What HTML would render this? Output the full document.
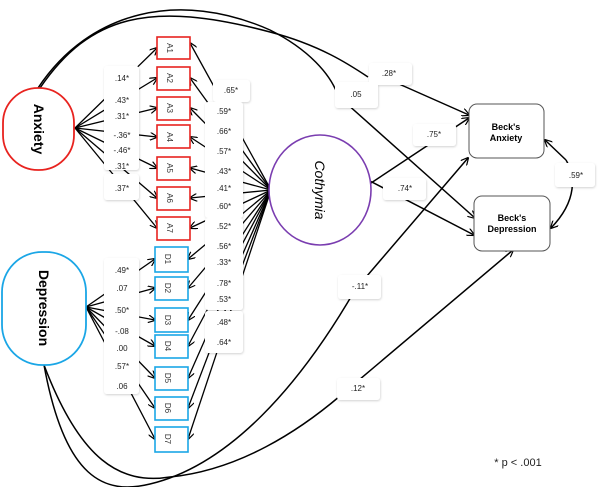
<!DOCTYPE html>
<html><head><meta charset="utf-8"><style>
html,body{margin:0;padding:0;background:#fff;}
svg{display:block;font-family:"Liberation Sans",Arial,sans-serif;}
</style></head><body>
<svg width="600" height="487" viewBox="0 0 600 487" xmlns="http://www.w3.org/2000/svg">
<defs>
<marker id="ar" markerWidth="8" markerHeight="8" refX="7" refY="4" orient="auto" markerUnits="userSpaceOnUse">
<path d="M0,0 L8,4 L0,8" fill="none" stroke="#000" stroke-width="1.2"/>
</marker>
<filter id="sh" x="-20%" y="-20%" width="140%" height="140%"><feDropShadow dx="0.5" dy="1" stdDeviation="1" flood-color="#000" flood-opacity="0.18"/></filter>
</defs>
<g stroke="#000" stroke-width="1.5" fill="none">
<path d="M38,88 C90,10 180,-10 270,30 C310,50 330,75 337,93"/>
<path d="M40,88 C90,15 150,0 270,32 C320,45 350,65 368,77"/>
<path d="M337,95 L475,218" marker-end="url(#ar)"/>
<path d="M390,80 L469,115" marker-end="url(#ar)"/>
<path d="M44,365 C65,480 105,495 150,484 C230,465 300,385 355,290 L468,158" marker-end="url(#ar)"/>
<path d="M44,365 C80,460 120,485 170,477 C240,470 300,430 340,396 L513,250" marker-end="url(#ar)"/>
<path d="M368,185 L469,118" marker-end="url(#ar)"/>
<path d="M368,180 L474,235" marker-end="url(#ar)"/>
<path d="M566,160 C575,175 578,200 551,228" marker-end="url(#ar)"/>
<path d="M566,160 L545,140" marker-end="url(#ar)"/>
</g>
<g stroke="#000" stroke-width="1.3" fill="none" marker-end="url(#ar)">
<path d="M75,128 L157,48"/><path d="M75,128 L157,78"/><path d="M75,128 L157,108"/>
<path d="M75,128 L157,137"/><path d="M75,128 L157,168"/><path d="M75,128 L157,198"/><path d="M75,128 L157,228"/>
<path d="M86,307 L155,259"/><path d="M86,307 L155,288"/><path d="M86,307 L155,320"/>
<path d="M86,307 L155,346"/><path d="M86,307 L155,378"/><path d="M86,307 L155,408"/><path d="M86,307 L155,439"/>
<path d="M271,190 L190,43"/><path d="M271,190 L190,78"/><path d="M271,190 L190,108"/>
<path d="M271,190 L190,137"/><path d="M271,190 L190,168"/><path d="M271,190 L190,198"/><path d="M271,190 L190,228"/>
<path d="M271,190 L188,259"/><path d="M271,190 L188,288"/><path d="M271,190 L188,320"/>
<path d="M271,190 L188,346"/><path d="M271,190 L188,378"/><path d="M271,190 L188,408"/><path d="M271,190 L188,439"/>
</g>
<g fill="#fff" filter="url(#sh)">
<rect x="104" y="66" width="35" height="104" rx="3"/>
<rect x="104" y="174" width="35" height="26" rx="3"/>
<rect x="104" y="258" width="35" height="136" rx="3"/>
<rect x="213" y="80" width="37" height="22" rx="3"/>
<rect x="205" y="102" width="38" height="116" rx="3"/>
<rect x="205" y="218" width="38" height="92" rx="3"/>
<rect x="205" y="311" width="38" height="42" rx="3"/>
<rect x="369" y="63" width="43" height="22" rx="3"/>
<rect x="335" y="82" width="43" height="26" rx="3"/>
<rect x="413" y="124" width="43" height="22" rx="3"/>
<rect x="383" y="178" width="43" height="22" rx="3"/>
<rect x="555" y="163" width="40" height="24" rx="3"/>
<rect x="338" y="275" width="43" height="24" rx="3"/>
<rect x="337" y="378" width="43" height="22" rx="3"/>
</g>
<g font-size="8" fill="#222" text-anchor="middle">
<text x="122" y="81">.14*</text><text x="122" y="103">.43*</text><text x="122" y="119">.31*</text>
<text x="122" y="138">-.36*</text><text x="122" y="153">-.46*</text><text x="122" y="169">.31*</text>
<text x="122" y="191">.37*</text>
<text x="122" y="273">.49*</text><text x="122" y="291">.07</text><text x="122" y="313">.50*</text>
<text x="122" y="334">-.08</text><text x="122" y="351">.00</text><text x="122" y="369">.57*</text>
<text x="122" y="389">.06</text>
<text x="231" y="93">.65*</text><text x="224" y="114">.59*</text><text x="224" y="134">.66*</text>
<text x="224" y="154">.57*</text><text x="224" y="174">.43*</text><text x="224" y="191">.41*</text>
<text x="224" y="209">.60*</text><text x="224" y="229">.52*</text><text x="224" y="249">.56*</text>
<text x="224" y="265">.33*</text><text x="224" y="286">.78*</text><text x="224" y="302">.53*</text>
<text x="224" y="325">.48*</text><text x="224" y="345">.64*</text>
<text x="389" y="76">.28*</text><text x="356" y="97">.05</text><text x="434" y="137">.75*</text>
<text x="405" y="191">.74*</text><text x="576" y="178">.59*</text><text x="360" y="289">-.11*</text>
<text x="358" y="391">.12*</text>
</g>
<g fill="#fff" stroke="#e8231f" stroke-width="1.6">
<rect x="157" y="37" width="33" height="22"/><rect x="157" y="67" width="33" height="23"/>
<rect x="157" y="97" width="33" height="23"/><rect x="157" y="125" width="33" height="23"/>
<rect x="157" y="157" width="33" height="23"/><rect x="157" y="187" width="33" height="23"/>
<rect x="157" y="217" width="33" height="23"/>
</g>
<g fill="#fff" stroke="#1aa6e6" stroke-width="1.6">
<rect x="155" y="247" width="33" height="25"/><rect x="155" y="277" width="33" height="23"/>
<rect x="155" y="308" width="33" height="24"/><rect x="155" y="335" width="33" height="23"/>
<rect x="155" y="367" width="33" height="23"/><rect x="155" y="397" width="33" height="23"/>
<rect x="155" y="427" width="33" height="25"/>
</g>
<g font-size="8" fill="#333" text-anchor="middle">
<text transform="translate(170,48) rotate(90)" dy="3">A1</text>
<text transform="translate(170,78) rotate(90)" dy="3">A2</text>
<text transform="translate(170,108) rotate(90)" dy="3">A3</text>
<text transform="translate(170,137) rotate(90)" dy="3">A4</text>
<text transform="translate(170,168) rotate(90)" dy="3">A5</text>
<text transform="translate(170,198) rotate(90)" dy="3">A6</text>
<text transform="translate(170,228) rotate(90)" dy="3">A7</text>
<text transform="translate(168,259) rotate(90)" dy="3">D1</text>
<text transform="translate(168,288) rotate(90)" dy="3">D2</text>
<text transform="translate(168,320) rotate(90)" dy="3">D3</text>
<text transform="translate(168,346) rotate(90)" dy="3">D4</text>
<text transform="translate(168,378) rotate(90)" dy="3">D5</text>
<text transform="translate(168,408) rotate(90)" dy="3">D6</text>
<text transform="translate(168,439) rotate(90)" dy="3">D7</text>
</g>
<rect x="3" y="88" width="71" height="82" rx="35" fill="#fff" stroke="#e8231f" stroke-width="1.8"/>
<text transform="translate(39,129) rotate(90)" text-anchor="middle" dy="5" font-size="14" font-weight="bold">Anxiety</text>
<rect x="2" y="252" width="84" height="113" rx="40" fill="#fff" stroke="#1aa6e6" stroke-width="1.8"/>
<text transform="translate(44,308) rotate(90)" text-anchor="middle" dy="5" font-size="14" font-weight="bold">Depression</text>
<ellipse cx="320" cy="190" rx="51" ry="55" fill="#fff" stroke="#7a3db0" stroke-width="1.6"/>
<text transform="translate(320,190) rotate(90)" text-anchor="middle" dy="5" font-size="14" font-style="italic">Cothymia</text>
<rect x="469" y="104" width="75" height="54" rx="8" fill="#fff" stroke="#555" stroke-width="1"/>
<text x="506" y="130" text-anchor="middle" font-size="9" font-weight="bold">Beck's</text>
<text x="506" y="141" text-anchor="middle" font-size="9" font-weight="bold">Anxiety</text>
<rect x="474" y="196" width="76" height="55" rx="8" fill="#fff" stroke="#555" stroke-width="1"/>
<text x="512" y="221" text-anchor="middle" font-size="9" font-weight="bold">Beck's</text>
<text x="512" y="232" text-anchor="middle" font-size="9" font-weight="bold">Depression</text>
<text x="518" y="466" text-anchor="middle" font-size="11" fill="#222">* p &lt; .001</text>
</svg>
</body></html>
